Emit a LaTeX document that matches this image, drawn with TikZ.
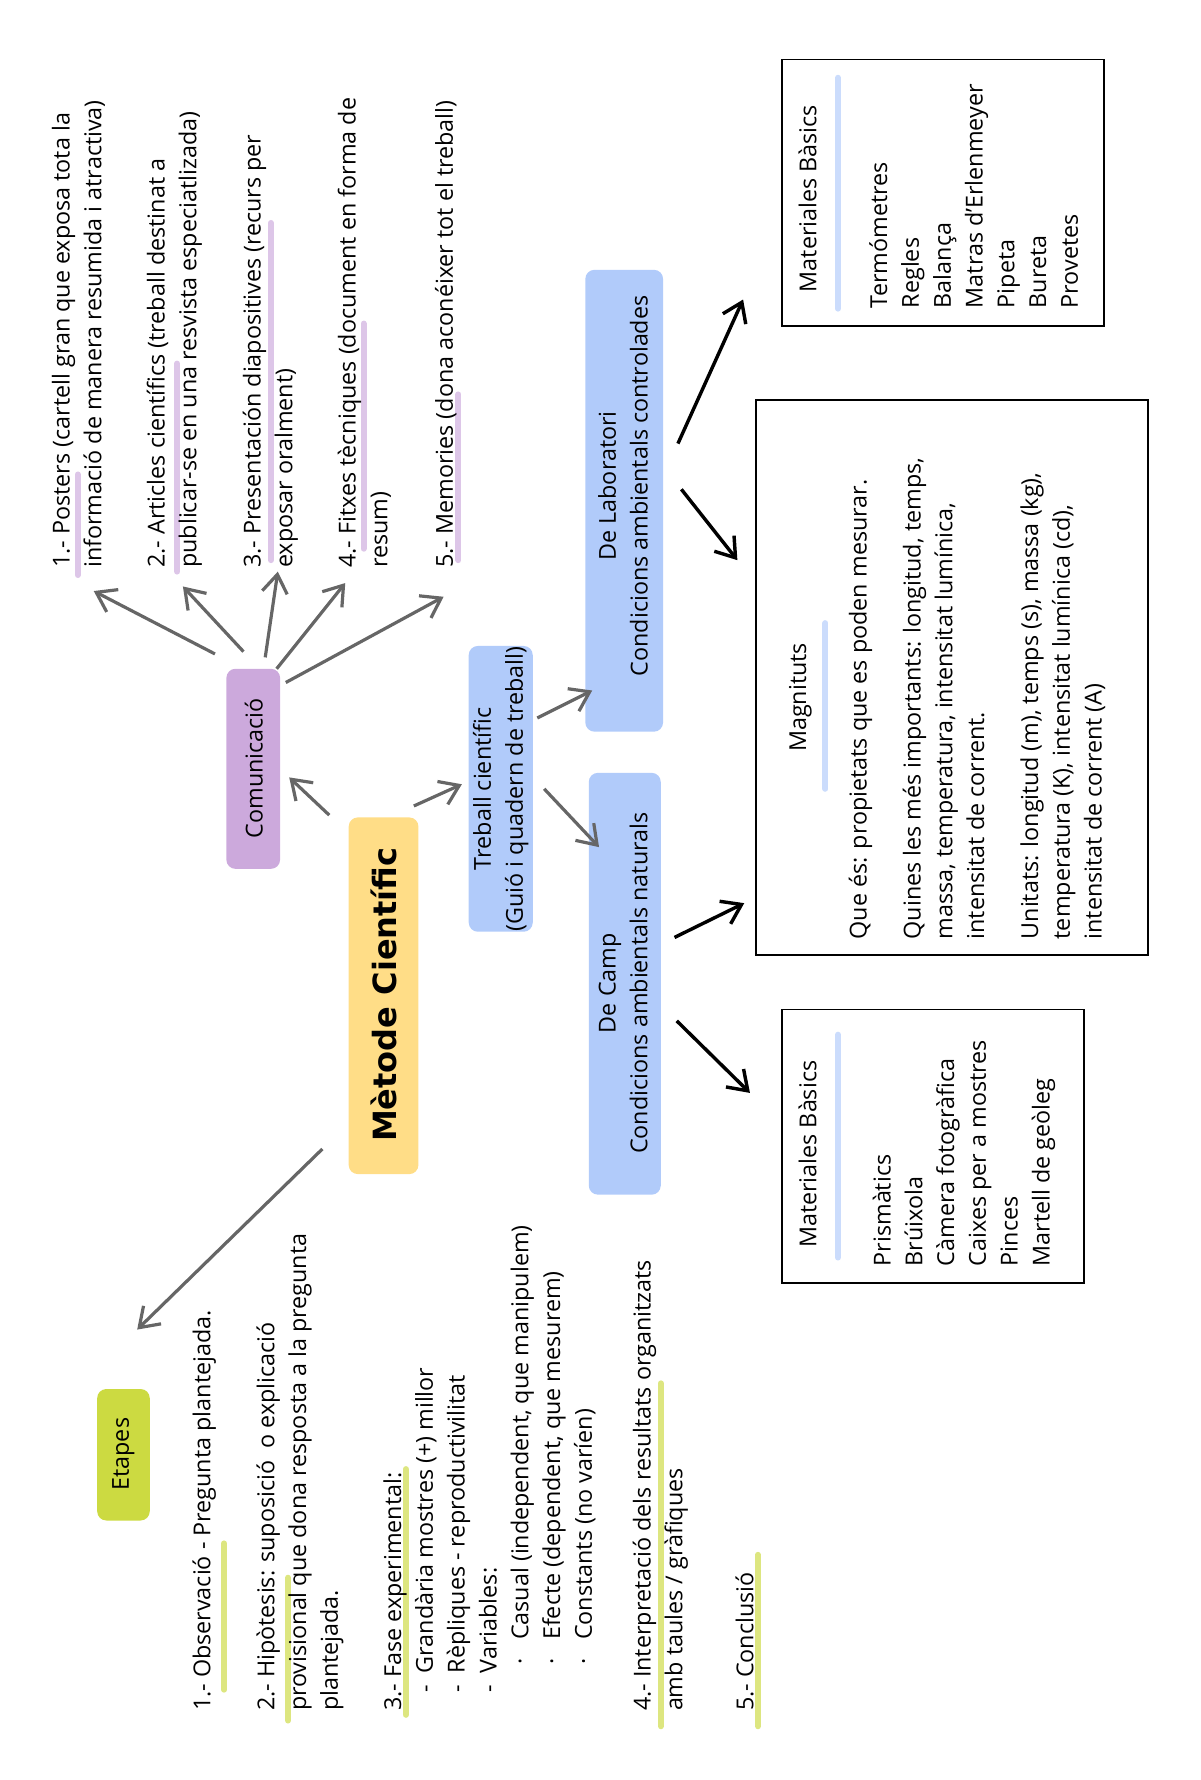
\documentclass[tikz,border=0pt]{standalone}
\usepackage{fontspec}
\setmainfont{Open Sans}
\newfontfamily\titlefont{DejaVu Sans}
\usetikzlibrary{arrows.meta}
\definecolor{hyel}{HTML}{FFD97A}
\definecolor{hpur}{HTML}{C7A0D8}
\definecolor{hblu}{HTML}{A9C5FA}
\definecolor{hgre}{HTML}{C6D62C}
\begin{document}
\begin{tikzpicture}[x=0.5pt,y=-0.5pt,
  txt/.style={rotate=90,anchor=north west,align=left,inner sep=0pt,font=\fontsize{10.2}{13.9}\selectfont},
  ctr/.style={rotate=90,align=center,inner sep=0pt,font=\fontsize{10.2}{13.9}\selectfont},
  hl/.style={fill=#1,draw=none,rounded corners=4pt,opacity=0.9},
  mk/.style={draw=#1,line width=2.6pt,line cap=round,opacity=0.6},
  garr/.style={draw=black!60,line width=1.4pt,-{Straight Barb[length=8pt,width=11pt]}},
  barr/.style={draw=black,line width=1.5pt,-{Straight Barb[length=8pt,width=11pt]}},
  box/.style={draw=black,line width=0.8pt}]
\useasboundingbox (0,0) rectangle (1050,1557);
% highlights
\fill[hl=hyel] (305,715) rectangle (366,1027);
\fill[hl=hpur] (198,585) rectangle (245,760);
\fill[hl=hblu] (410,565) rectangle (466,815);
\fill[hl=hblu] (512,236) rectangle (580,640);
\fill[hl=hblu] (515,676) rectangle (578,1045);
\fill[hl=hgre] (85,1215) rectangle (131,1330);
% marks
\draw[mk=hpur] (68,415)--(68,503);
\draw[mk=hpur] (155,318)--(155,500);
\draw[mk=hpur] (237,195)--(237,490);
\draw[mk=hpur] (318,283)--(318,480);
\draw[mk=hpur] (401,345)--(401,490);
\draw[mk=hgre] (196,1350)--(196,1478);
\draw[mk=hgre] (252,1380)--(252,1505);
\draw[mk=hgre] (355,1285)--(355,1500);
\draw[mk=hgre] (578,1210)--(578,1510);
\draw[mk=hgre] (663,1360)--(663,1510);
\draw[mk=hblu] (733,68)--(733,270);
\draw[mk=hblu] (722,545)--(722,690);
\draw[mk=hblu] (733,905)--(733,1100);
% central nodes
\node[rotate=90,inner sep=0pt,font=\titlefont\bfseries\fontsize{14}{16}\selectfont] (met) at (336,870) {Mètode Científic};
\node[ctr] (com) at (222,672) {Comunicació};
\node[ctr] (tre) at (438,690) {Treball científic\\(Guió i quadern de treball)};
\node[ctr] (lab) at (545,425) {De Laboratori\\Condicions ambientals controlades};
\node[ctr] (camp) at (545,860) {De Camp\\Condicions ambientals naturals};
\node[ctr] (eta) at (108,1272) {Etapes};
% communication list
\node[txt] (p1) at (45,497) {1.- Posters (cartell gran que exposa tota la\\informació de manera resumida i atractiva)};
\node[txt] (p2) at (128,497) {2.- Articles científics (treball destinat a\\publicar-se en una resvista especiatlizada)};
\node[txt] (p3) at (212,497) {3.- Presentación diapositives (recurs per\\exposar oralment)};
\node[txt] (p4) at (295,497) {4.- Fitxes tècniques (document en forma de\\resum)};
\node[txt] (p5) at (380,497) {5.- Memories (dona aconéixer tot el treball)};
% etapes list
\node[txt] (e1) at (168,1497) {1.- Observació - Pregunta plantejada.};
\node[txt] (e2) at (224,1497) {2.- Hipòtesis: suposició\ \ o explicació\\provisional que dona resposta a la pregunta\\plantejada.};
\node[txt] (e3) at (335,1497) {3.- Fase experimental:\\\ \ \ -\ \ Grandària mostres (+) millor\\\ \ \ -\ \ Rèpliques - reproductivilitat\\\ \ \ -\ \ Variables:\\\hspace{2em}·\ \ \ Casual (independent, que manipulem)\\\hspace{2em}·\ \ \ Efecte (dependent, que mesurem)\\\hspace{2em}·\ \ \ Constants (no varíen)};
\node[txt] (e4) at (553,1497) {4.- Interpretació dels resultats organitzats\\amb taules / gràfiques};
\node[txt] (e5) at (643,1497) {5.- Conclusió};
% boxes
\draw[box] (684,52) rectangle (966,285);
\draw[box] (661,350) rectangle (1004,835);
\draw[box] (684,883) rectangle (948,1122);
\node[txt] (mb1) at (698,256) {Materiales Bàsics};
\node[txt] (ml1) at (760,270) {Termómetres\\Regles\\Balança\\Matras d’Erlenmeyer\\Pipeta\\Bureta\\Provetes};
\node[ctr] (mag) at (700,610) {Magnituts};
\node[txt] (mq) at (742,822) {Que és: propietats que es poden mesurar.\\[0.95em]Quines les més importants: longitud, temps,\\massa, temperatura, intensitat lumínica,\\intensitat de corrent.\\[0.95em]Unitats: longitud (m), temps (s), massa (kg),\\temperatura (K), intensitat lumínica (cd),\\intensitat de corrent (A)};
\node[txt] (mb2) at (698,1092) {Materiales Bàsics};
\node[txt] (ml2) at (763,1108) {Prismàtics\\Brúixola\\Càmera fotogràfica\\Caixes per a mostres\\Pinces\\Martell de geòleg};
% connector endpoints
\coordinate (cA) at (188,572); \coordinate (tA) at (82,517);
\coordinate (cB) at (213,570); \coordinate (tB) at (160,513);
\coordinate (cC) at (232,575); \coordinate (tC) at (243,500);
\coordinate (cD) at (242,585); \coordinate (tD) at (302,510);
\coordinate (cE) at (250,597); \coordinate (tE) at (388,522);
\coordinate (m1) at (288,713); \coordinate (c1) at (253,680);
\coordinate (m2) at (282,1005); \coordinate (e0) at (120,1163);
\coordinate (m3) at (362,705); \coordinate (t1) at (404,686);
\coordinate (t2) at (470,628); \coordinate (l1) at (518,604);
\coordinate (t3) at (476,690); \coordinate (ca1) at (524,741);
\coordinate (l2) at (593,388); \coordinate (b1) at (650,262);
\coordinate (l3) at (596,428); \coordinate (b2) at (645,490);
\coordinate (ca2) at (590,820); \coordinate (b3) at (651,790);
\coordinate (ca3) at (592,893); \coordinate (b4) at (656,956);
\draw[garr] (cA)--(tA);
\draw[garr] (cB)--(tB);
\draw[garr] (cC)--(tC);
\draw[garr] (cD)--(tD);
\draw[garr] (cE)--(tE);
\draw[garr] (m1)--(c1);
\draw[garr] (m2)--(e0);
\draw[garr] (m3)--(t1);
\draw[garr] (t2)--(l1);
\draw[garr] (t3)--(ca1);
\draw[barr] (l2)--(b1);
\draw[barr] (l3)--(b2);
\draw[barr] (ca2)--(b3);
\draw[barr] (ca3)--(b4);
\end{tikzpicture}
\end{document}
